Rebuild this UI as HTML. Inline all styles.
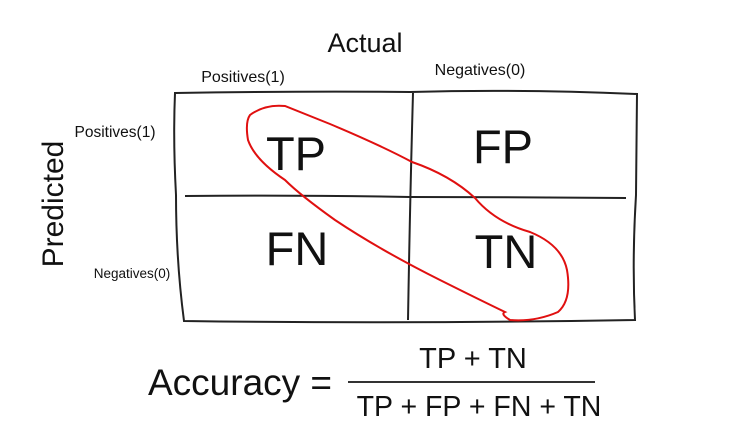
<!DOCTYPE html>
<html><head><style>
body{margin:0;background:#fff;width:734px;height:442px;overflow:hidden}
svg{display:block}
text{font-family:"Liberation Sans",sans-serif;fill:#111}
</style></head><body>
<svg width="734" height="442" viewBox="0 0 734 442">
<text x="365" y="52" font-size="27" text-anchor="middle">Actual</text>
<text x="243" y="82" font-size="16" text-anchor="middle" fill="#333">Positives(1)</text>
<text x="480" y="75" font-size="16" text-anchor="middle" fill="#333">Negatives(0)</text>
<text x="115" y="137" font-size="15.5" text-anchor="middle" fill="#333">Positives(1)</text>
<text x="132" y="278" font-size="13.5" text-anchor="middle" fill="#333">Negatives(0)</text>
<text transform="translate(63,204) rotate(-90)" font-size="30" text-anchor="middle">Predicted</text>
<g fill="none" stroke="#222" stroke-width="2">
<path d="M175 93 Q300 91 410 92 Q520 89 637 94 L636 195 Q632 260 635 320 Q400 324 184 321 Q176 260 176 195 Q173 140 175 93Z"/>
<path d="M185 196 Q300 195 410 197 Q520 197 626 198"/>
<path d="M413 93 Q410 200 408 320"/>
</g>
<path fill="none" stroke="#e01010" stroke-width="2" d="M250 115 Q265 104 285 106 Q300 112 330 124 Q380 145 412 162 Q450 175 475 198 Q495 222 530 232 Q562 245 567 270 Q572 300 558 312 Q535 322 510 320 Q500 314 505 312 Q480 300 440 280 Q380 250 335 220 Q300 195 285 180 Q255 160 248 140 Q245 122 250 115Z"/>
<g font-size="47" text-anchor="middle">
<text x="296" y="170">TP</text>
<text x="503" y="163">FP</text>
<text x="297" y="265">FN</text>
<text x="506" y="268">TN</text>
</g>
<text x="148" y="395" font-size="37">Accuracy =</text>
<text x="473" y="368" font-size="29" text-anchor="middle">TP + TN</text>
<line x1="348" y1="382" x2="595" y2="382" stroke="#333" stroke-width="2"/>
<text x="479" y="416" font-size="28.5" text-anchor="middle">TP + FP + FN + TN</text>
</svg>
</body></html>
